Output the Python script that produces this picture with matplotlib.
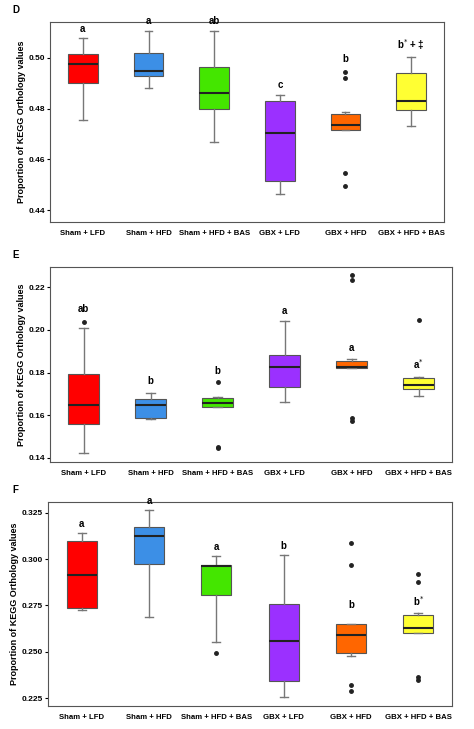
import matplotlib
matplotlib.use("Agg")
import matplotlib.pyplot as plt

plt.rcParams["font.family"] = ["Liberation Sans", "DejaVu Sans"]

groups = ["Sham + LFD", "Sham + HFD", "Sham + HFD + BAS", "GBX + LFD", "GBX + HFD", "GBX + HFD + BAS"]
colors = ["#ff0000", "#3c8fe6", "#44e600", "#9b30ff", "#ff6600", "#ffff33"]

# (whislo, q1, med, q3, whishi, fliers)
stats_d = [
    (0.4755, 0.490, 0.4975, 0.5015, 0.508, []),
    (0.488, 0.493, 0.495, 0.502, 0.5105, []),
    (0.467, 0.480, 0.486, 0.4965, 0.5105, []),
    (0.4465, 0.4515, 0.4705, 0.483, 0.4855, []),
    (0.4715, 0.4715, 0.4735, 0.478, 0.4785, [0.4945, 0.492, 0.4545, 0.4495]),
    (0.473, 0.4795, 0.483, 0.494, 0.5005, []),
]
labels_d = ["a", "a", "ab", "c", "b", "b$^{*}$ + ‡"]
label_y_d = [0.5095, 0.5125, 0.5125, 0.4875, 0.4975, 0.5025]

stats_e = [
    (0.1425, 0.156, 0.165, 0.1795, 0.201, [0.2035]),
    (0.158, 0.1585, 0.1648, 0.1675, 0.1705, []),
    (0.1637, 0.1637, 0.1655, 0.168, 0.1685, [0.1755, 0.145, 0.1445]),
    (0.166, 0.173, 0.1825, 0.188, 0.204, []),
    (0.182, 0.182, 0.1825, 0.1855, 0.1865, [0.2255, 0.2235, 0.1585, 0.1575]),
    (0.169, 0.1725, 0.174, 0.1775, 0.178, [0.2045]),
]
labels_e = ["ab", "b", "b", "a", "a", "a$^{*}$"]
label_y_e = [0.2075, 0.1735, 0.1785, 0.2065, 0.189, 0.1805]

stats_f = [
    (0.2725, 0.2735, 0.2915, 0.310, 0.314, []),
    (0.269, 0.2975, 0.3125, 0.3175, 0.3265, []),
    (0.2555, 0.2805, 0.2965, 0.297, 0.3015, [0.2495]),
    (0.2255, 0.234, 0.256, 0.276, 0.302, []),
    (0.2475, 0.2495, 0.259, 0.265, 0.265, [0.309, 0.297, 0.232, 0.229]),
    (0.260, 0.260, 0.263, 0.270, 0.271, [0.292, 0.2875, 0.2365, 0.235]),
]
labels_f = ["a", "a", "a", "b", "b", "b$^{*}$"]
label_y_f = [0.3165, 0.329, 0.304, 0.3045, 0.2725, 0.2735]

panels = [
    ("D", stats_d, labels_d, label_y_d, (0.4353, 0.5142), [0.44, 0.46, 0.48, 0.50], "{:.2f}",
     [50, 22, 444, 222]),
    ("E", stats_e, labels_e, label_y_e, (0.1381, 0.2294), [0.14, 0.16, 0.18, 0.20, 0.22], "{:.2f}",
     [50, 267, 452, 462]),
    ("F", stats_f, labels_f, label_y_f, (0.2207, 0.3309), [0.225, 0.25, 0.275, 0.30, 0.325], "{:.3f}",
     [48, 502, 452, 706]),
]

W, H = 474, 729
fig = plt.figure(figsize=(W / 100, H / 100), dpi=100)

for letter, stats, labels, label_y, ylim, ticks, fmt, (l, t, r, b) in panels:
    ax = fig.add_axes([l / W, 1 - b / H, (r - l) / W, (b - t) / H])
    bxp_stats = [dict(whislo=s[0], q1=s[1], med=s[2], q3=s[3], whishi=s[4], fliers=s[5]) for s in stats]
    parts = ax.bxp(bxp_stats, positions=range(1, 7), widths=0.45, patch_artist=True,
                   showfliers=True,
                   medianprops=dict(color="#222222", linewidth=1.5),
                   whiskerprops=dict(color="#777777", linewidth=1),
                   capprops=dict(color="#777777", linewidth=1),
                   boxprops=dict(edgecolor="#555555", linewidth=0.8),
                   flierprops=dict(marker="o", markersize=2.5, markerfacecolor="#222222",
                                   markeredgecolor="#222222"))
    for patch, c in zip(parts["boxes"], colors):
        patch.set_facecolor(c)
    for cap in parts["caps"]:
        xd = cap.get_xdata()
        m = (xd[0] + xd[1]) / 2
        cap.set_xdata([m - 0.06, m + 0.06])
    for i, (lab, y) in enumerate(zip(labels, label_y)):
        ax.text(i + 1, y, lab, ha="center", va="bottom", fontsize=7, fontweight="bold")
    ax.set_xlim(0.5, 6.5)
    ax.set_ylim(*ylim)
    ax.set_yticks(ticks)
    ax.set_yticklabels([fmt.format(v) for v in ticks], fontsize=6, fontweight="bold")
    ax.set_xticks(range(1, 7))
    ax.set_xticklabels(groups, fontsize=5.6, fontweight="bold")
    ax.tick_params(axis="x", length=0, pad=6)
    ax.tick_params(axis="y", length=2, pad=1.5)
    for sp in ax.spines.values():
        sp.set_color("#555555")
    ax.set_ylabel("Proportion of KEGG Orthology values", fontsize=6.5, fontweight="bold", labelpad=2)
    fig.text(12 / W, 1 - (t - 12) / H, letter, fontsize=7, fontweight="bold", va="center")

plt.savefig("out.png", dpi=100)
